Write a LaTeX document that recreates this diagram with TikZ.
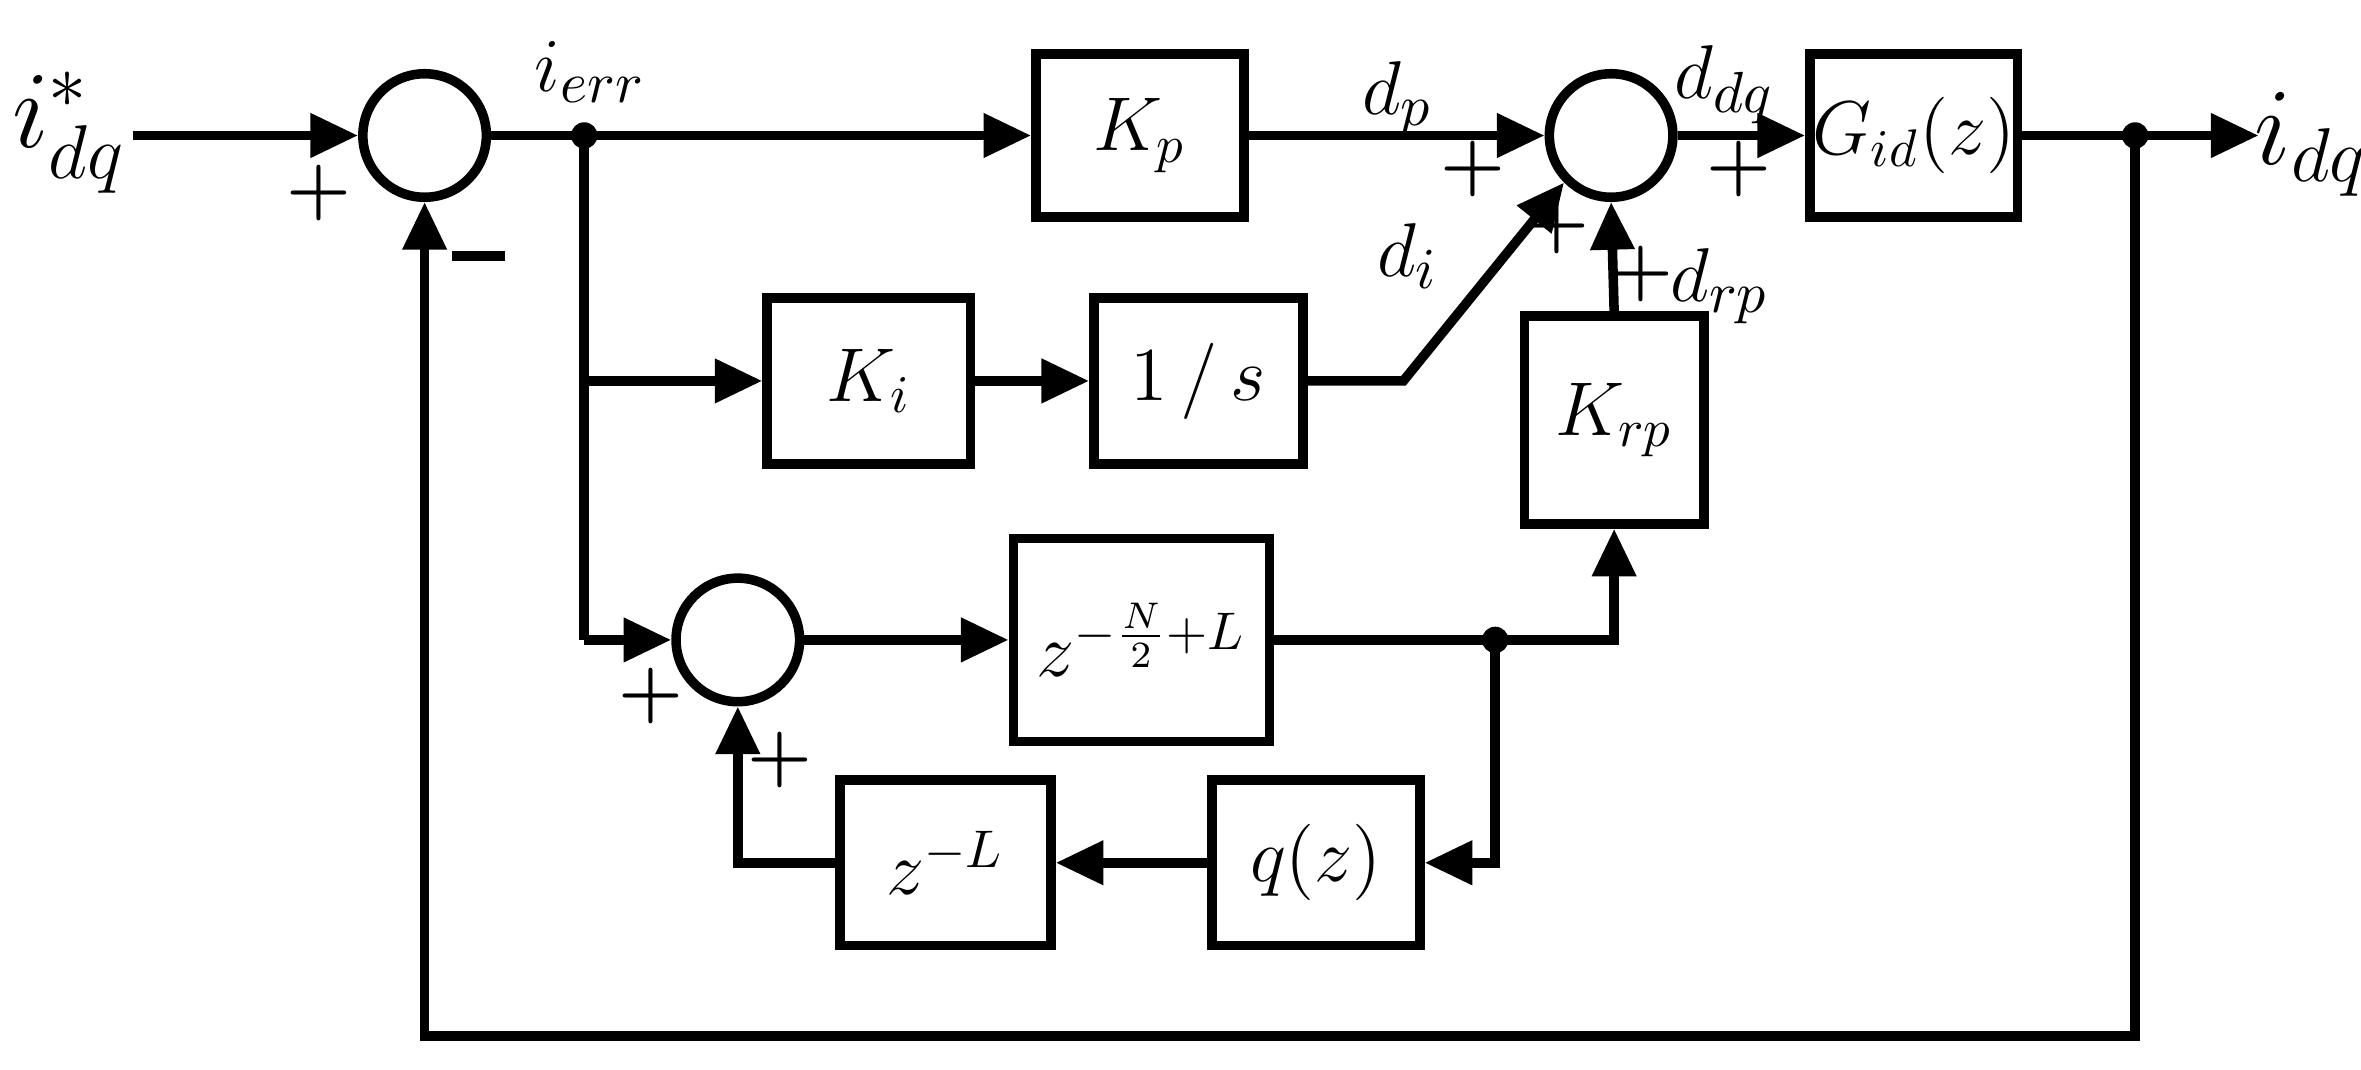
\documentclass[tikz,border=0pt]{standalone}
\usepackage{amsmath}
\usetikzlibrary{arrows.meta}
\begin{document}
\begin{tikzpicture}[x=0.01cm,y=-0.01cm,
  every path/.style={line width=1.8pt},
  sum/.style={draw,circle,line width=1.8pt,minimum size=0.82cm,inner sep=0},
  arr/.style={-{Triangle[length=9pt,width=8pt]}},
  dot/.style={circle,fill,inner sep=0,minimum size=5pt},
  lbl/.style={font=\fontsize{15}{17}\selectfont},
  pm/.style={font=\fontsize{14}{14}\selectfont\bfseries}]
\useasboundingbox (0,0) rectangle (1568,710);
\tikzset{bx/.style 2 args={draw,line width=1.8pt,minimum width=#1*0.01cm,minimum height=#2*0.01cm,inner sep=0,font=\fontsize{14}{16}\selectfont}}
% nodes
\node[sum] (s1) at (282,90) {};
\node[sum] (s2) at (1070,90) {};
\node[sum] (s3) at (490,425) {};
\node[bx={138}{108}] (kp) at (757,90) {$K_p$};
\node[bx={138}{108}] (g) at (1271,90) {$G_{id}(z)$};
\node[bx={135}{110}] (ki) at (577,253) {$K_i$};
\node[bx={139}{110}] (int) at (796,253) {$1\,/\,s$};
\node[bx={119}{138}] (krp) at (1072,279) {$K_{rp}$};
\node[bx={170}{135}] (zn) at (758,425) {$z^{-\frac{N}{2}+L}$};
\node[bx={138}{110}] (q) at (874,573) {$q(z)$};
\node[bx={140}{110}] (zl) at (628,573) {$z^{-L}$};
\node[dot] (d1) at (388,90) {};
\node[dot] (d2) at (1418,90) {};
\node[dot] (d3) at (993,425) {};
\coordinate (in) at (88,90);
\coordinate (out) at (1500,90);
\coordinate (br) at (388,253);
\coordinate (bn) at (388,425);
\coordinate (kk) at (932,253);
\coordinate (fb1) at (1418,688);
\coordinate (fb2) at (282,688);
\coordinate (c1) at (1072,425);
\coordinate (c2) at (993,573);
\coordinate (c3) at (490,573);
% labels
\node[font=\fontsize{20}{22}\selectfont] at (46,88) {$i_{dq}^{*}$};
\node[font=\fontsize{20}{22}\selectfont] at (1535,96) {$i_{dq}$};
\node[lbl] at (392,48) {$i_{err}$};
\node[lbl] at (928,66) {$d_p$};
\node[lbl] at (1145,56) {$d_{dq}$};
\node[lbl] at (935,170) {$d_i$};
\node[lbl] at (1142,190) {$d_{rp}$};
\node[pm] at (212,128) {+};
\node[pm] at (318,170) {\rule{10pt}{1.8pt}};
\node[pm] at (978,112) {+};
\node[pm] at (1034,150) {+};
\node[pm] at (1090,182) {+};
\node[pm] at (1155,112) {+};
\node[pm] at (432,462) {+};
\node[pm] at (518,505) {+};
% connectors
\draw[arr] (in) -- (s1.west);
\draw[arr] (s1.east) -- (kp.west);
\draw[arr] (kp.east) -- (s2.west);
\draw[arr] (s2.east) -- (g.west);
\draw[arr] (g.east) -- (out);
\draw[arr] (d2.center) -- (fb1) -- (fb2) -- (s1.south);
\draw (d1.center) -- (bn);
\draw[arr] (br) -- (ki.west);
\draw[arr] (ki.east) -- (int.west);
\draw[arr] (int.east) -- (kk) -- (s2.south west);
\draw[arr] (krp.north) -- (s2.south);
\draw[arr] (bn) -- (s3.west);
\draw[arr] (s3.east) -- (zn.west);
\draw[arr] (zn.east) -- (c1) -- (krp.south);
\draw[arr] (d3.center) -- (c2) -- (q.east);
\draw[arr] (q.west) -- (zl.east);
\draw[arr] (zl.west) -- (c3) -- (s3.south);
\end{tikzpicture}
\end{document}
